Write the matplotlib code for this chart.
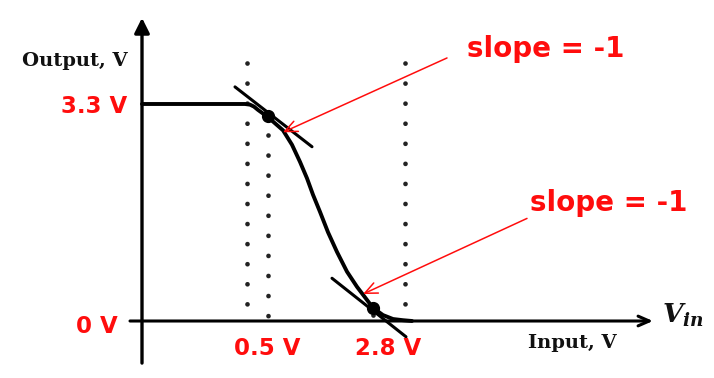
import matplotlib
matplotlib.use("Agg")
import matplotlib.pyplot as plt

plt.rcParams['mathtext.fontset'] = 'custom'
plt.rcParams['mathtext.it'] = 'DejaVu Serif:italic:bold'
plt.rcParams['mathtext.rm'] = 'DejaVu Serif:bold'

# Transfer curve (input units arbitrary, output in V)
vin = [0.00, 1.03, 1.08, 1.12, 1.16, 1.26, 1.41, 1.50, 1.58, 1.65, 1.71,
       1.78, 1.86, 1.95, 2.05, 2.15, 2.23, 2.31, 2.41, 2.51, 2.61, 2.70]
vout = [3.30, 3.30, 3.29, 3.26, 3.21, 3.10, 2.90, 2.68, 2.42, 2.17, 1.92,
        1.66, 1.35, 1.05, 0.75, 0.52, 0.36, 0.20, 0.09, 0.03, 0.012, 0.0]

# unity-gain points and tangent segments
pt_x = [1.26, 2.31]
pt_y = [3.12, 0.20]
tan1_x = [0.93, 1.70]
tan1_y = [3.56, 2.65]
tan2_x = [1.90, 2.64]
tan2_y = [0.65, -0.24]

# dotted guide lines: x, y_bottom, y_top
guide_x = [1.05, 1.26, 2.31, 2.63]
guide_lo = [0.24, -0.21, -0.21, 0.24]
guide_hi = [3.92, 2.83, 0.09, 3.92]

RED = '#ff0d0d'

fig = plt.figure(figsize=(7.14, 3.78), dpi=100)
ax = fig.add_axes([0, 0, 1, 1])
ax.set_xlim(-1.42, 5.72)
ax.set_ylim(-0.8668, 4.8814)
ax.axis('off')

# dotted guides
for gx, lo, hi in zip(guide_x, guide_lo, guide_hi):
    ax.plot([gx, gx], [hi, lo], color='#222222', lw=3.4,
            dashes=[0.01, 4.24], dash_capstyle='round')

# axes with arrows
ax.annotate('', xy=(0, 4.61), xytext=(0, -0.64),
            arrowprops=dict(arrowstyle='-|>,head_length=0.9,head_width=0.45',
                            lw=2.4, color='black', shrinkA=0, shrinkB=0))
ax.annotate('', xy=(5.11, 0), xytext=(-0.12, 0),
            arrowprops=dict(arrowstyle='->,head_length=0.8,head_width=0.35',
                            lw=2.2, color='black', shrinkA=0, shrinkB=0))

# curve
ax.plot(vin, vout, color='black', lw=2.8, solid_capstyle='round', solid_joinstyle='round')
ax.plot(tan1_x, tan1_y, color='black', lw=2.2, solid_capstyle='round')
ax.plot(tan2_x, tan2_y, color='black', lw=2.2, solid_capstyle='round')
ax.plot(pt_x, pt_y, 'o', color='black', ms=8.5)

# red arrows
ax.annotate('', xy=(1.41, 2.87), xytext=(3.05, 4.00),
            arrowprops=dict(arrowstyle='->,head_length=0.9,head_width=0.4',
                            lw=1.1, color=RED, shrinkA=0, shrinkB=0))
ax.annotate('', xy=(2.21, 0.41), xytext=(3.85, 1.56),
            arrowprops=dict(arrowstyle='->,head_length=0.9,head_width=0.4',
                            lw=1.1, color=RED, shrinkA=0, shrinkB=0))

# red labels
bold_red = dict(color=RED, fontweight='bold', family='DejaVu Sans')
ax.text(3.25, 4.015, 'slope = -1', fontsize=20, ha='left', va='baseline', **bold_red)
ax.text(3.88, 1.673, 'slope = -1', fontsize=20, ha='left', va='baseline', **bold_red)
ax.text(-0.15, 3.163, '3.3 V', fontsize=16.5, ha='right', va='baseline', **bold_red)
ax.text(-0.24, -0.18, '0 V', fontsize=16.5, ha='right', va='baseline', **bold_red)
ax.text(1.25, -0.517, '0.5 V', fontsize=16.5, ha='center', va='baseline', **bold_red)
ax.text(2.46, -0.517, '2.8 V', fontsize=16.5, ha='center', va='baseline', **bold_red)

# black axis labels
serif = dict(color='#111111', fontweight='bold', family='DejaVu Serif')
ax.text(-0.14, 3.88, 'Output, V', fontsize=14, ha='right', va='baseline', **serif)
ax.text(4.30, -0.41, 'Input, V', fontsize=14, ha='center', va='baseline', **serif)
ax.text(5.20, -0.03, r'$V_{in}$', fontsize=19, ha='left', va='baseline', color='#111111')

fig.savefig('out.png', dpi=100)
